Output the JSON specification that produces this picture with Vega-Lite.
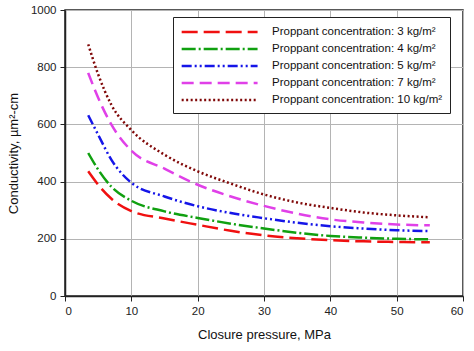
{
  "$schema": "https://vega.github.io/schema/vega-lite/v6.json",
  "autosize": "none",
  "width": 398,
  "height": 286,
  "padding": {"left": 65, "top": 10, "right": 11, "bottom": 55},
  "background": "white",
  "config": {
    "font": "Liberation Sans",
    "view": {"stroke": "#222", "strokeWidth": 1.5},
    "axis": {"domainColor": "#222", "domainWidth": 1.5, "tickColor": "#222", "tickSize": 5, "labelFontSize": 11.5, "labelColor": "#222", "titleFontSize": 13, "titleFontWeight": "normal", "titleColor": "#111"}
  },
  "data": {"values": [
    {"s": "Proppant concentration: 3 kg/m²", "p": 3.5, "c": 436},
    {"s": "Proppant concentration: 3 kg/m²", "p": 5, "c": 389},
    {"s": "Proppant concentration: 3 kg/m²", "p": 7, "c": 340},
    {"s": "Proppant concentration: 3 kg/m²", "p": 10, "c": 297},
    {"s": "Proppant concentration: 3 kg/m²", "p": 15, "c": 271},
    {"s": "Proppant concentration: 3 kg/m²", "p": 20, "c": 249},
    {"s": "Proppant concentration: 3 kg/m²", "p": 25, "c": 228},
    {"s": "Proppant concentration: 3 kg/m²", "p": 30, "c": 212},
    {"s": "Proppant concentration: 3 kg/m²", "p": 35, "c": 202},
    {"s": "Proppant concentration: 3 kg/m²", "p": 40, "c": 195},
    {"s": "Proppant concentration: 3 kg/m²", "p": 45, "c": 191},
    {"s": "Proppant concentration: 3 kg/m²", "p": 50, "c": 189},
    {"s": "Proppant concentration: 3 kg/m²", "p": 55, "c": 188},
    {"s": "Proppant concentration: 4 kg/m²", "p": 3.5, "c": 500},
    {"s": "Proppant concentration: 4 kg/m²", "p": 5, "c": 442},
    {"s": "Proppant concentration: 4 kg/m²", "p": 7, "c": 382},
    {"s": "Proppant concentration: 4 kg/m²", "p": 10, "c": 333},
    {"s": "Proppant concentration: 4 kg/m²", "p": 15, "c": 296},
    {"s": "Proppant concentration: 4 kg/m²", "p": 20, "c": 273},
    {"s": "Proppant concentration: 4 kg/m²", "p": 25, "c": 253},
    {"s": "Proppant concentration: 4 kg/m²", "p": 30, "c": 236},
    {"s": "Proppant concentration: 4 kg/m²", "p": 35, "c": 221},
    {"s": "Proppant concentration: 4 kg/m²", "p": 40, "c": 210},
    {"s": "Proppant concentration: 4 kg/m²", "p": 45, "c": 204},
    {"s": "Proppant concentration: 4 kg/m²", "p": 50, "c": 200},
    {"s": "Proppant concentration: 4 kg/m²", "p": 55, "c": 198},
    {"s": "Proppant concentration: 5 kg/m²", "p": 3.5, "c": 632},
    {"s": "Proppant concentration: 5 kg/m²", "p": 5, "c": 564},
    {"s": "Proppant concentration: 5 kg/m²", "p": 7, "c": 476},
    {"s": "Proppant concentration: 5 kg/m²", "p": 10, "c": 396},
    {"s": "Proppant concentration: 5 kg/m²", "p": 15, "c": 348},
    {"s": "Proppant concentration: 5 kg/m²", "p": 20, "c": 314},
    {"s": "Proppant concentration: 5 kg/m²", "p": 25, "c": 290},
    {"s": "Proppant concentration: 5 kg/m²", "p": 30, "c": 272},
    {"s": "Proppant concentration: 5 kg/m²", "p": 35, "c": 256},
    {"s": "Proppant concentration: 5 kg/m²", "p": 40, "c": 244},
    {"s": "Proppant concentration: 5 kg/m²", "p": 45, "c": 236},
    {"s": "Proppant concentration: 5 kg/m²", "p": 50, "c": 230},
    {"s": "Proppant concentration: 5 kg/m²", "p": 55, "c": 227},
    {"s": "Proppant concentration: 7 kg/m²", "p": 3.5, "c": 780},
    {"s": "Proppant concentration: 7 kg/m²", "p": 5, "c": 693},
    {"s": "Proppant concentration: 7 kg/m²", "p": 7, "c": 599},
    {"s": "Proppant concentration: 7 kg/m²", "p": 10, "c": 508},
    {"s": "Proppant concentration: 7 kg/m²", "p": 15, "c": 445},
    {"s": "Proppant concentration: 7 kg/m²", "p": 20, "c": 389},
    {"s": "Proppant concentration: 7 kg/m²", "p": 25, "c": 348},
    {"s": "Proppant concentration: 7 kg/m²", "p": 30, "c": 315},
    {"s": "Proppant concentration: 7 kg/m²", "p": 35, "c": 288},
    {"s": "Proppant concentration: 7 kg/m²", "p": 40, "c": 268},
    {"s": "Proppant concentration: 7 kg/m²", "p": 45, "c": 257},
    {"s": "Proppant concentration: 7 kg/m²", "p": 50, "c": 250},
    {"s": "Proppant concentration: 7 kg/m²", "p": 55, "c": 247},
    {"s": "Proppant concentration: 10 kg/m²", "p": 3.5, "c": 880},
    {"s": "Proppant concentration: 10 kg/m²", "p": 5, "c": 775},
    {"s": "Proppant concentration: 10 kg/m²", "p": 7, "c": 668},
    {"s": "Proppant concentration: 10 kg/m²", "p": 10, "c": 580},
    {"s": "Proppant concentration: 10 kg/m²", "p": 15, "c": 494},
    {"s": "Proppant concentration: 10 kg/m²", "p": 20, "c": 436},
    {"s": "Proppant concentration: 10 kg/m²", "p": 25, "c": 393},
    {"s": "Proppant concentration: 10 kg/m²", "p": 30, "c": 355},
    {"s": "Proppant concentration: 10 kg/m²", "p": 35, "c": 327},
    {"s": "Proppant concentration: 10 kg/m²", "p": 40, "c": 308},
    {"s": "Proppant concentration: 10 kg/m²", "p": 45, "c": 292},
    {"s": "Proppant concentration: 10 kg/m²", "p": 50, "c": 282},
    {"s": "Proppant concentration: 10 kg/m²", "p": 55, "c": 275}
  ]},
  "mark": {"type": "line", "interpolate": "monotone", "strokeWidth": 2.5},
  "encoding": {
    "x": {"field": "p", "type": "quantitative", "scale": {"domain": [0, 60], "nice": false}, "axis": {"grid": true, "gridColor": "#b4b4b4", "gridWidth": 1, "values": [0, 10, 20, 30, 40, 50, 60], "title": "Closure pressure, MPa", "titlePadding": 12, "labelPadding": 4}},
    "y": {"field": "c", "type": "quantitative", "scale": {"domain": [0, 1000], "nice": false}, "axis": {"grid": true, "gridColor": "#b4b4b4", "gridWidth": 1, "values": [0, 200, 400, 600, 800, 1000], "format": "d", "title": "Conductivity, µm²-cm", "titlePadding": 10, "labelPadding": 4}},
    "color": {"field": "s", "type": "nominal", "title": null,
      "scale": {"domain": ["Proppant concentration: 3 kg/m²", "Proppant concentration: 4 kg/m²", "Proppant concentration: 5 kg/m²", "Proppant concentration: 7 kg/m²", "Proppant concentration: 10 kg/m²"],
                "range": ["#f01010", "#10a010", "#1515e8", "#e040e8", "#800808"]},
      "legend": {"orient": "none", "legendX": 108, "legendY": 7, "strokeColor": "#222", "padding": 7, "symbolType": "M-1,0H11", "symbolSize": 160, "symbolStrokeWidth": 2.5, "labelFontSize": 11.5, "labelColor": "#111", "rowPadding": 3, "labelOffset": 76, "fillColor": "white", "labelLimit": 300}},
    "strokeDash": {"field": "s", "type": "nominal", "title": null,
      "scale": {"domain": ["Proppant concentration: 3 kg/m²", "Proppant concentration: 4 kg/m²", "Proppant concentration: 5 kg/m²", "Proppant concentration: 7 kg/m²", "Proppant concentration: 10 kg/m²"],
                "range": [[16, 6], [14, 3, 2, 3], [10, 3, 2, 3, 2, 3], [12, 6], [2, 2.5]]}}
  }
}
